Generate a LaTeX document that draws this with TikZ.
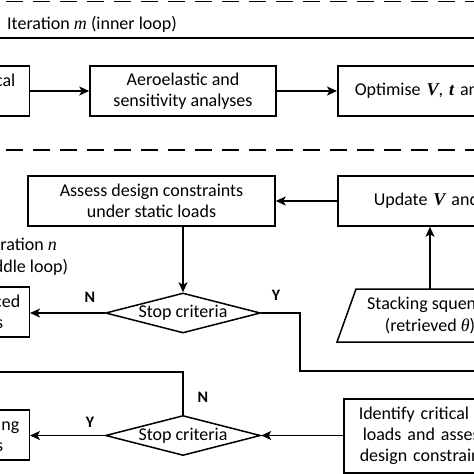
\documentclass[tikz,border=0pt]{standalone}
\usepackage{fontspec}
\setmainfont{Carlito}
\newfontfamily\mathserif{Liberation Serif}
\usetikzlibrary{arrows.meta,shapes.geometric}
\newcommand{\mvb}[1]{{\mathserif\bfseries\itshape #1}}
\newcommand{\mvi}[1]{{\mathserif\itshape #1}}
\begin{document}
\begin{tikzpicture}[x=1pt,y=-1pt,
  txt/.style={font=\fontsize{18}{22}\selectfont, inner sep=0pt},
  box/.style={draw, line width=1.5pt, inner ysep=0pt, font=\fontsize{18}{21}\selectfont, align=center},
  dia/.style={draw, line width=1.5pt, shape=diamond, inner sep=-2pt, minimum width=155pt, minimum height=40pt, aspect=3.875, font=\fontsize{18}{21}\selectfont},
  arr/.style={line width=1.3pt, -{Stealth[length=10pt,width=9pt,inset=2.5pt]}},
  lin/.style={line width=1.3pt},
  dashline/.style={line width=1.8pt, dash pattern=on 17pt off 10pt},
  yn/.style={font=\fontsize{16}{16}\selectfont\bfseries, inner sep=0pt}]
\useasboundingbox (0,0) rectangle (474,474);
\clip (0,0) rectangle (474,474);
\fill[white] (0,0) rectangle (474,474);

% separators
\coordinate (dtl) at (-21,1.5); \coordinate (dtr) at (490,1.5);
\coordinate (dml) at (-21,150); \coordinate (dmr) at (490,150);
\coordinate (sl) at (-5,38); \coordinate (sr) at (490,38);
\draw[dashline] (dtl) -- (dtr);
\draw[dashline] (dml) -- (dmr);
\draw[lin] (sl) -- (sr);
\node[txt, anchor=west] (itm) at (7,24) {Iteration \mvi{m} (inner loop)};

% inner loop row
\node[box, anchor=east, align=right, text width=150pt, inner xsep=14pt, minimum height=50pt] (b1) at (30,91) {cal\\\phantom{x}};
\node[box, minimum width=186pt, minimum height=50pt] (aero) at (183,91) {Aeroelastic and\\sensitivity analyses};
\node[box, anchor=west, align=left, text width=200pt, inner xsep=17pt, minimum height=50pt] (opt) at (337,91) {Optimise \mvb{V}, \mvb{t} an};
\draw[arr] (b1) -- (aero);
\draw[arr] (aero) -- (opt);

% middle loop
\node[box, minimum width=247pt, minimum height=50pt] (assess) at (151.5,201) {Assess design constraints\\under static loads};
\node[box, anchor=west, align=left, text width=200pt, inner xsep=36pt, minimum height=50pt] (upd) at (337,201) {Update \mvb{V} and};
\draw[arr] (upd) -- (assess);

\node[txt, align=center] (midloop) at (19,257) {Iteration \mvi{n}\\(middle loop)};

\node[dia] (d1) at (183,313) {Stop criteria};
\draw[arr] (d1.north |- assess.south) -- (d1.north);

\node[box, anchor=east, align=right, text width=150pt, inner xsep=9pt, minimum height=50pt] (lb1) at (30,312) {ced\\s\rule{17pt}{0pt}};
\draw[arr] (d1.west) -- (d1.west -| lb1.east);

\draw[line width=1.5pt] (356,289) -- (530,289) -- (511,342) -- (337,342) -- cycle;
\node[txt, align=center] (stk) at (430,315.5) {Stacking squence\\(retrieved \mvi{θ})};
\coordinate (stktop) at (430,289);
\draw[arr] (stktop) -- (stktop |- upd.south);

\coordinate (c1) at (300,371);
\coordinate (c1e) at (490,371);
\draw[lin] (d1.east) -| (c1) -- (c1e);

\node[yn] (n1) at (90,297) {N};
\node[yn] (y1) at (276,295) {Y};

% outer part
\node[dia] (d2) at (183,435.5) {Stop criteria};
\coordinate (c2) at (-10,372);
\draw[lin] (d2.north) |- (c2);
\node[box, anchor=east, align=right, text width=150pt, inner xsep=10pt, minimum height=50pt] (lb2) at (30,435) {ing\\s\rule{16pt}{0pt}};
\draw[arr] (d2.west) -- (d2.west -| lb2.east);

\node[box, anchor=north west, align=left, text width=200pt, inner xsep=15pt, minimum height=74pt] (idf) at (343,398) {Identify critical g\\\hspace{4pt}loads and asses\\\hspace{1pt}design constrain};
\draw[arr] (d2.east -| idf.west) -- (d2.east);

\node[yn] (n2) at (203,397) {N};
\node[yn] (y2) at (90,422) {Y};
\end{tikzpicture}
\end{document}
